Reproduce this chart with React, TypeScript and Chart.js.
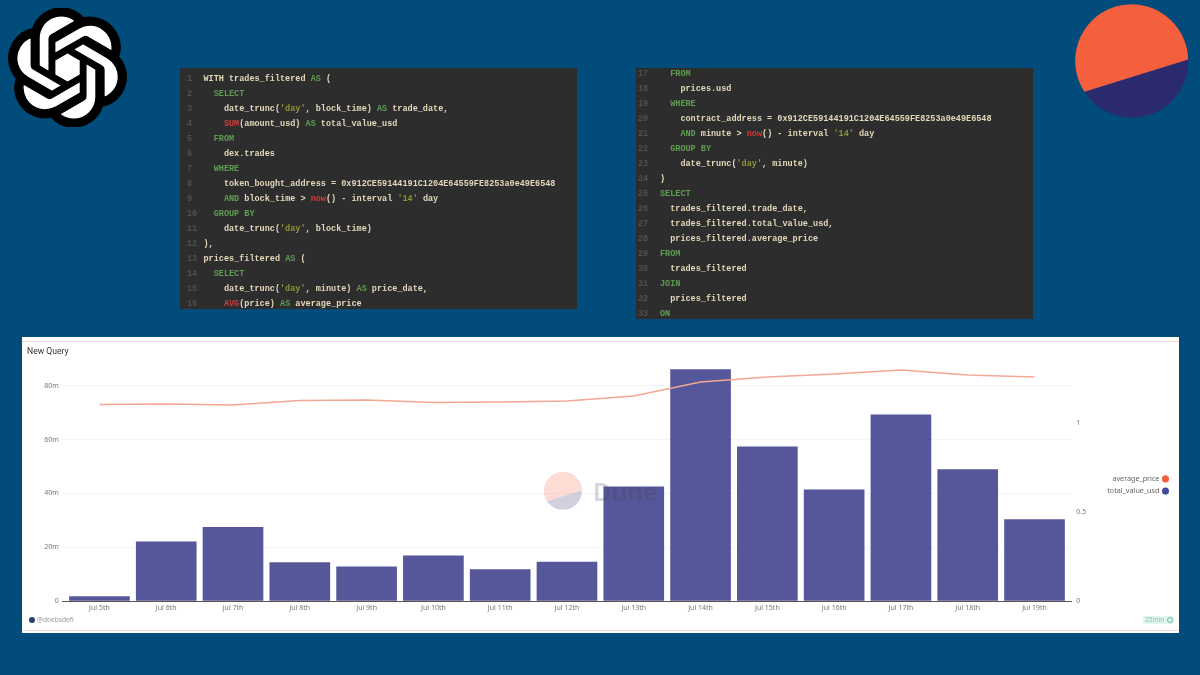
import React, { useEffect, useRef } from "react";
import { Chart, registerables } from "chart.js";

Chart.register(...registerables);

const days = ["Jul 5th", "Jul 6th", "Jul 7th", "Jul 8th", "Jul 9th", "Jul 10th", "Jul 11th", "Jul 12th", "Jul 13th", "Jul 14th", "Jul 15th", "Jul 16th", "Jul 17th", "Jul 18th", "Jul 19th"];
const totalValueUsd = [1.6, 22, 27.4, 14.3, 12.7, 16.8, 11.7, 14.5, 42.4, 86, 57.3, 41.3, 69.2, 48.8, 30.3];
const averagePrice = [1.104, 1.107, 1.101, 1.127, 1.13, 1.115, 1.118, 1.124, 1.152, 1.231, 1.259, 1.276, 1.298, 1.27, 1.259];
const leftTicks = [0, 20, 40, 60, 80];
const rightTicks = [0, 0.5, 1];

const codeLeft = [
  "WITH trades_filtered AS (",
  "  SELECT",
  "    date_trunc('day', block_time) AS trade_date,",
  "    SUM(amount_usd) AS total_value_usd",
  "  FROM",
  "    dex.trades",
  "  WHERE",
  "    token_bought_address = 0x912CE59144191C1204E64559FE8253a0e49E6548",
  "    AND block_time > now() - interval '14' day",
  "  GROUP BY",
  "    date_trunc('day', block_time)",
  "),",
  "prices_filtered AS (",
  "  SELECT",
  "    date_trunc('day', minute) AS price_date,",
  "    AVG(price) AS average_price",
];
const codeRight = [
  "  FROM",
  "    prices.usd",
  "  WHERE",
  "    contract_address = 0x912CE59144191C1204E64559FE8253a0e49E6548",
  "    AND minute > now() - interval '14' day",
  "  GROUP BY",
  "    date_trunc('day', minute)",
  ")",
  "SELECT",
  "  trades_filtered.trade_date,",
  "  trades_filtered.total_value_usd,",
  "  prices_filtered.average_price",
  "FROM",
  "  trades_filtered",
  "JOIN",
  "  prices_filtered",
  "ON",
];

const TOKEN = /(\bSELECT\b|\bFROM\b|\bWHERE\b|\bGROUP BY\b|\bAND\b|\bAS\b|\bJOIN\b|\bON\b)|(\bSUM\b|\bAVG\b|\bnow\b)|('[^']*')/g;

function highlight(line: string) {
  const out: React.ReactNode[] = [];
  let last = 0;
  let m: RegExpExecArray | null;
  TOKEN.lastIndex = 0;
  while ((m = TOKEN.exec(line))) {
    if (m.index > last) out.push(line.slice(last, m.index));
    const color = m[1] ? "#5f9e52" : m[2] ? "#d23c3c" : "#8f9436";
    out.push(<span key={m.index} style={{ color }}>{m[0]}</span>);
    last = m.index + m[0].length;
  }
  out.push(line.slice(last));
  return out;
}

function CodePanel(props: { left: number; top: number; width: number; height: number; lines: string[]; start: number; firstY: number; numberX: number; codeX: number }) {
  const { left, top, width, height, lines, start, firstY, numberX, codeX } = props;
  return (
    <div style={{ position: "absolute", left, top, width, height, background: "#2d2d2d", overflow: "hidden", filter: "blur(0.45px)" }}>
      {lines.map((line, i) => (
        <div key={i} style={{ position: "absolute", left: 0, top: firstY + i * 15 - 6, height: 12, lineHeight: "12px", whiteSpace: "pre", fontFamily: "'Liberation Mono', monospace", fontWeight: 700, fontSize: 8.5 }}>
          <span style={{ position: "absolute", left: numberX, color: "#505050" }}>{start + i}</span>
          <span style={{ position: "absolute", left: codeX, color: "#e3d8ba" }}>{highlight(line)}</span>
        </div>
      ))}
    </div>
  );
}

const KNOT_OUTER = "M22.2819 9.8211a5.9847 5.9847 0 0 0-.5157-4.9108 6.0462 6.0462 0 0 0-6.5098-2.9A6.0651 6.0651 0 0 0 4.9807 4.1818a5.9847 5.9847 0 0 0-3.9977 2.9 6.0462 6.0462 0 0 0 .7427 7.0966 5.98 5.98 0 0 0 .511 4.9107 6.051 6.051 0 0 0 6.5146 2.9001A5.9847 5.9847 0 0 0 13.2599 24a6.0557 6.0557 0 0 0 5.7718-4.2058 5.9894 5.9894 0 0 0 3.9977-2.9001 6.0557 6.0557 0 0 0-.7475-7.0729z";
const KNOT_FULL = KNOT_OUTER + "m-9.022 12.6081a4.4755 4.4755 0 0 1-2.8764-1.0408l.1419-.0804 4.7783-2.7582a.7948.7948 0 0 0 .3927-.6813v-6.7369l2.02 1.1686a.071.071 0 0 1 .038.052v5.5826a4.504 4.504 0 0 1-4.4945 4.4944zm-9.6607-4.1254a4.4708 4.4708 0 0 1-.5346-3.0137l.142.0852 4.783 2.7582a.7712.7712 0 0 0 .7806 0l5.8428-3.3685v2.3324a.0804.0804 0 0 1-.0332.0615L9.74 19.9502a4.4992 4.4992 0 0 1-6.1408-1.6464zM2.3408 7.8956a4.485 4.485 0 0 1 2.3655-1.9728V11.6a.7664.7664 0 0 0 .3879.6765l5.8144 3.3543-2.0201 1.1685a.0757.0757 0 0 1-.071 0l-4.8303-2.7865A4.504 4.504 0 0 1 2.3408 7.872zm16.5963 3.8558L13.1038 8.364 15.1192 7.2a.0757.0757 0 0 1 .071 0l4.8303 2.7913a4.4944 4.4944 0 0 1-.6765 8.1042v-5.6772a.79.79 0 0 0-.407-.667zm2.0107-3.0231l-.142-.0852-4.7735-2.7818a.7759.7759 0 0 0-.7854 0L9.409 9.2297V6.8974a.0662.0662 0 0 1 .0284-.0615l4.8303-2.7866a4.4992 4.4992 0 0 1 6.6802 4.66zM8.3065 12.863l-2.02-1.1638a.0804.0804 0 0 1-.038-.0567V6.0742a4.4992 4.4992 0 0 1 7.3757-3.4537l-.142.0805L8.704 5.459a.7948.7948 0 0 0-.3927.6813zm1.0976-2.3654l2.602-1.4998 2.6069 1.4998v2.9994l-2.5974 1.4997-2.6067-1.4997Z";

function DunePie(props: { left: number; top: number; size: number; opacity?: number }) {
  return (
    <svg viewBox="0 0 114 114" style={{ position: "absolute", left: props.left, top: props.top, width: props.size, height: props.size, opacity: props.opacity ?? 1 }}>
      <circle cx="57" cy="57" r="56.5" fill="#2c2a6e" />
      <path d="M9.5 87.8 L113.2 55.5 A56.5 56.5 0 1 0 9.5 87.8 Z" fill="#f4603e" />
    </svg>
  );
}

export default function App() {
  const ref = useRef<HTMLCanvasElement>(null);
  useEffect(() => {
    const font = { family: "'Noto Sans', sans-serif", size: 7 };
    const chart = new Chart(ref.current!, {
      type: "bar",
      data: {
        datasets: [
          {
            type: "line",
            label: "average_price",
            data: averagePrice.map((y, i) => ({ x: i, y })),
            yAxisID: "y1",
            borderColor: "#f4a792",
            backgroundColor: "#f4603e",
            borderWidth: 1.5,
            pointRadius: 0,
            tension: 0,
            order: 1,
          },
          {
            type: "bar",
            label: "total_value_usd",
            data: totalValueUsd.map((y, i) => ({ x: i, y })),
            yAxisID: "y",
            backgroundColor: "#56569a",
            barThickness: 60,
            order: 2,
          },
        ],
      } as any,
      options: {
        responsive: false,
        animation: false,
        layout: { padding: { top: 0, right: 6, bottom: 0, left: 0 } },
        plugins: {
          tooltip: { enabled: false },
          title: {
            display: true,
            text: " ",
            font: { size: 1, lineHeight: 1 },
            padding: { top: 0, bottom: 29.7 },
          },
          legend: {
            position: "right",
            rtl: true,
            labels: {
              usePointStyle: true,
              pointStyle: "circle",
              boxWidth: 5,
              boxHeight: 5,
              padding: 5,
              color: "#666",
              font: { family: "'Noto Sans', sans-serif", size: 7.2 },
              generateLabels: () => [
                { text: "average_price", fontColor: "#666", fillStyle: "#f4603e", strokeStyle: "#f4603e", lineWidth: 0, pointStyle: "circle", datasetIndex: 0 },
                { text: "total_value_usd", fontColor: "#666", fillStyle: "#3f4a9a", strokeStyle: "#3f4a9a", lineWidth: 0, pointStyle: "circle", datasetIndex: 1 },
              ],
            },
          },
        },
        scales: {
          x: {
            type: "linear",
            offset: false,
            min: -0.55,
            max: 14.55,
            afterBuildTicks: (s: any) => { s.ticks = days.map((_, i) => ({ value: i })); },
            afterFit: (s: any) => { s.height = 32; },
            grid: { display: false, drawTicks: false },
            border: { color: "#555", width: 1 },
            ticks: { color: "#777", font, padding: 3, maxRotation: 0, autoSkip: false, callback: (v: any) => days[v] },
          },
          y: {
            position: "left",
            min: 0,
            max: 86.7,
            afterBuildTicks: (s: any) => { s.ticks = leftTicks.map((value) => ({ value })); },
            afterFit: (s: any) => { s.width = 40.7; },
            grid: { color: "#f5f5f5", drawTicks: false },
            border: { display: false },
            ticks: { color: "#777", font, padding: 4, callback: (v: any) => (v === 0 ? "0" : `${v}m`) },
          },
          y1: {
            position: "right",
            min: 0,
            max: 1.311,
            afterBuildTicks: (s: any) => { s.ticks = rightTicks.map((value) => ({ value })); },
            afterFit: (s: any) => { s.width = 26; },
            grid: { display: false, drawTicks: false },
            border: { display: false },
            ticks: { color: "#777", font, padding: 5, callback: (v: any) => String(v) },
          },
        },
      } as any,
    });
    return () => chart.destroy();
  }, []);

  return (
    <div style={{ position: "fixed", left: 0, top: 0, width: 1200, height: 675, background: "#014c7a", overflow: "hidden", fontFamily: "'Noto Sans', sans-serif" }}>
      <svg viewBox="0 0 24 24" style={{ position: "absolute", left: 8, top: 8, width: 119, height: 119 }}>
        <path d={KNOT_OUTER} fill="#fff" />
        <path d={KNOT_FULL} fill="#000" stroke="#000" strokeWidth="0.3" />
      </svg>
      <DunePie left={1075} top={4} size={114} />
      <CodePanel left={180} top={68} width={397} height={241} lines={codeLeft} start={1} firstY={11.3} numberX={7} codeX={23.5} />
      <CodePanel left={636} top={68} width={397} height={251} lines={codeRight} start={17} firstY={6.3} numberX={2} codeX={24} />

      <div style={{ position: "absolute", left: 22, top: 337, width: 1157, height: 296, background: "#fff" }}>
        <div style={{ position: "absolute", left: 0, right: 0, top: 4, height: 1, background: "#f7dcd6" }} />
        <div style={{ position: "absolute", left: 0, right: 0, top: 293, height: 1, background: "#f7dcd6" }} />
        <canvas ref={ref} width={1157} height={296} style={{ position: "absolute", left: 0, top: 0, display: "block" }} />
        <div style={{ position: "absolute", left: 5, top: 8, fontFamily: "Roboto, sans-serif", fontSize: 8.6, lineHeight: "12px", color: "#333", whiteSpace: "pre" }}>New Query</div>
        <div style={{ position: "absolute", left: 7, top: 280, width: 6, height: 6, borderRadius: 3, background: "#2c3e6e" }} />
        <div style={{ position: "absolute", left: 15, top: 278, fontSize: 6.6, lineHeight: "10px", color: "#999", whiteSpace: "pre" }}>@doebsdefi</div>
        <div style={{ position: "absolute", left: 1121, top: 279, width: 31, height: 8, borderRadius: 2, background: "#e0f5ec" }}>
          <span style={{ position: "absolute", left: 2, top: -1, fontSize: 6.5, lineHeight: "10px", color: "#7fcdb0" }}>25min</span>
          <span style={{ position: "absolute", left: 23.5, top: 1, width: 4, height: 4, borderRadius: 3, border: "1px solid #5fbf9a" }} />
        </div>
        <DunePie left={522} top={135} size={38} opacity={0.22} />
        <div style={{ position: "absolute", left: 571, top: 137, fontSize: 25, lineHeight: "34px", fontWeight: 600, color: "rgba(70,70,70,0.22)", whiteSpace: "pre" }}>Dune</div>
      </div>
    </div>
  );
}
